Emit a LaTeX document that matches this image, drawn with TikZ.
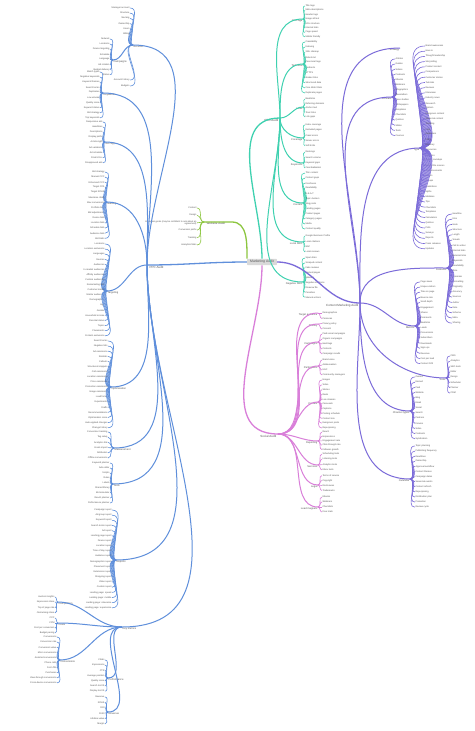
\documentclass[tikz,border=0pt]{standalone}
\usepackage{fontspec}
\setmainfont{Liberation Sans}
\definecolor{cb}{HTML}{5F8FDB}
\definecolor{ct}{HTML}{3FD1B0}
\definecolor{cg}{HTML}{8CC63F}
\definecolor{cp}{HTML}{7B6BD9}
\definecolor{cpk}{HTML}{D97FD9}
\definecolor{tx}{HTML}{555555}
\tikzset{
 leaf/.style={inner sep=0.3pt,text=tx,font=\fontsize{2.3}{2.6}\selectfont},
 sub/.style={inner sep=0.4pt,text=tx,font=\fontsize{2.6}{3}\selectfont},
 hub/.style={inner sep=0.5pt,text=tx,font=\fontsize{3}{3.4}\selectfont},
 lw/.style={line width=0.6pt},
 sw/.style={line width=1pt},
 hw/.style={line width=1.3pt}
}
\newcommand\lv[6]{\foreach \t [count=\i] in {#6}{\node[leaf,anchor=east,align=right] (#1-\i) at (#3,{#4+(\i-1)*#5}) {\t};
 \draw[#2,lw] (#1) to[out=180,in=0] (#1-\i.east);}}
\newcommand\rv[6]{\foreach \t [count=\i] in {#6}{\node[leaf,anchor=west,align=left] (#1-\i) at (#3,{#4+(\i-1)*#5}) {\t};
 \draw[#2,lw] (#1) to[out=0,in=180] (#1-\i.west);}}
\newcommand\Lj[4]{\coordinate (#1) at (#2,#3); \node[sub,anchor=north west] (#1l) at (#1) {#4};}
\newcommand\Rj[4]{\coordinate (#1) at (#2,#3); \node[sub,anchor=north east] (#1l) at (#1) {#4};}
\begin{document}
\begin{tikzpicture}[x=1pt,y=-1pt]
\useasboundingbox[fill=white] (0,0) rectangle (474,731);
\node[hub,fill=black!15,rounded corners=0.5pt,inner xsep=3pt,inner ysep=1.5pt,font=\fontsize{3.4}{4}\selectfont] (mkt) at (262,262) {Marketing Audit};

% ---------------- Website audit (green)
\coordinate (web) at (204,222);
\node[hub,anchor=north west] (webl) at (206,222) {Website Audit};
\draw[cg,hw] (web) -- (232,222) to[out=0,in=90] (mkt.north west);
\lv{web}{cg}{197}{208}{7.4}{Content,Design,{Uncertain goals (may be confident to ask about an\\ agreement)},Conversion paths,Tracking,Analytics/Stats}

% ---------------- PPC audit (blue)
\coordinate (ppc) at (147,265);
\node[hub,anchor=north west] (ppcl) at (149,266) {PPC Audit};
\draw[cb,hw] (mkt.west) to[out=180,in=0] (ppc);
\Lj{bacc}{133}{45}{Account}
\Lj{bcamp}{113}{60}{Campaigns}
\Lj{bkw}{103}{93}{Keywords}
\Lj{bads}{105}{142}{Ad copy}
\Lj{bbid}{107}{202}{Bidding}
\Lj{btgt}{107}{291}{Targeting}
\Lj{bopt}{111}{387}{Optimisation}
\Lj{bmeas}{114}{448}{Measurement}
\Lj{btool}{113}{484}{Tools}
\Lj{brep}{116}{560}{Reports}
\Lj{bkpi}{122}{627}{Key metrics}
\Lj{bcomp}{58}{602}{Competition}
\Lj{bcost}{58}{623}{Costs}
\Lj{bconv}{60}{660}{Conversions}
\Lj{bperf}{108}{678}{Performance}
\Lj{brev}{108}{712}{Revenue}
\foreach \n in {bacc,bkw,bads,bbid}{\draw[cb,sw] (ppc) to[out=90,in=0] (\n);}
\draw[cb,sw] (ppc) to[out=180,in=0] (btgt);
\foreach \n in {bopt,bmeas,btool,brep,bkpi}{\draw[cb,sw] (ppc) to[out=270,in=0] (\n);}
\draw[cb,sw] (bacc) to[out=180,in=0] (bcamp);
\foreach \n in {bcomp,bcost,bconv,bperf,brev}{\draw[cb,sw] (bkpi) to[out=180,in=0] (\n);}
\lv{bacc}{cb}{130}{8}{5.2}{Manager account,Structure,Naming,Ownership,Users,Billing}
\lv{bacc}{cb}{130}{80}{6}{Account history,Budgets}
\lv{bcamp}{cb}{110}{39}{5.1}{Network,Locations,Device targeting,Schedule,Language,Ad rotation,Budget delivery,Status}
\lv{bkw}{cb}{100}{72}{5.1}{Match types,Negative keywords,Keyword themes,Search terms,Duplicates,Low volume,Quality score,Keyword status,Bid strategy,Top keywords}
\lv{bads}{cb}{103}{122}{5.1}{Responsive ads,Headlines,Descriptions,Display paths,Ad strength,Ad variations,Ad schedule,Final URLs,Disapproved ads}
\lv{bbid}{cb}{105}{172}{5.1}{Bid strategy,Manual CPC,Enhanced CPC,Target CPA,Target ROAS,Maximise clicks,Max conversions,Portfolio bids,Bid adjustments,Device bids,Location bids,Schedule bids,Audience bids,Bid limits}
\lv{btgt}{cb}{105}{244}{5.1}{Locations,Location exclusions,Languages,Devices,Audiences,In-market audiences,Affinity audiences,Custom audiences,Remarketing lists,Customer match,Similar audiences,Demographics,Age,Gender,Household income,Parental status,Topics,Placements,Content exclusions}
\lv{bopt}{cb}{108}{341}{5.1}{Search terms,Negative lists,Ad extensions,Sitelinks,Callouts,Structured snippets,Call extensions,Location extensions,Price extensions,Promotion extensions,Image extensions,Lead forms,Experiments,Drafts,Recommendations,Optimisation score,Auto-applied changes,Change history}
\lv{bmeas}{cb}{108}{432}{5.2}{Conversion tracking,Tag setup,Analytics link,Goals import,Attribution,Offline conversions}
\lv{btool}{cb}{110}{463}{5}{Keyword planner,Ads editor,Scripts,Rules,Labels,Shared library,Bid simulator,Reach planner,Performance planner}
\lv{brep}{cb}{112}{510}{5.15}{Campaign report,Ad group report,Keyword report,Search terms report,Ad report,Landing page report,Device report,Location report,Time of day report,Audience report,Demographics report,Placement report,Extensions report,Shopping report,Video report,Custom report,Landing page: speed,Landing page: mobile,Landing page: relevance,Landing page: experience}
\lv{bcomp}{cb}{55}{597}{5.3}{Auction insights,Impression share,Top of page rate,Outranking share}
\lv{bcost}{cb}{55}{618}{5}{CPC,CPM,Cost per conversion,Budget pacing}
\lv{bconv}{cb}{57}{637}{5.1}{Conversions,Conversion rate,Conversion value,Micro conversions,Assisted conversions,Phone calls,Form fills,Purchases,View-through conversions,Cross-device conversions}
\lv{bperf}{cb}{105}{660}{5.2}{Clicks,Impressions,CTR,Average position,Quality score,Search lost IS,Display lost IS}
\lv{brev}{cb}{105}{697}{5.4}{Revenue,ROAS,ROI,Profit,Lifetime value,Margin}

% ---------------- SEO audit (teal)
\coordinate (seo) at (280,118);
\node[hub,anchor=north east] (seol) at (279,119) {SEO Audit};
\draw[ct,hw] (mkt.north) to[out=90,in=180] (seo);
\Rj{tonp}{303}{19}{On-Page}
\Rj{ttech}{303}{64}{Technical}
\Rj{tlink}{303}{107}{Links}
\Rj{tcov}{303}{138}{Coverage}
\Rj{tkw}{303}{163}{Keywords}
\Rj{tcont}{303}{203}{Content}
\Rj{tloc}{303}{242}{Local SEO}
\Rj{tneg}{303}{282}{Negative SEO}
\foreach \n in {tonp,ttech}{\draw[ct,sw] (seo) to[out=90,in=180] (\n);}
\draw[ct,sw] (seo) to[out=0,in=180] (tlink);
\foreach \n in {tcov,tkw,tcont,tloc,tneg}{\draw[ct,sw] (seo) to[out=270,in=180] (\n);}
\rv{tonp}{ct}{305}{6}{4.4}{Title tags,Meta descriptions,Header tags,Image alt text,URL structure,Internal links,Page speed,Mobile friendly}
\rv{ttech}{ct}{305}{42}{5.1}{Crawlability,Indexing,XML sitemap,Robots.txt,Canonical tags,Redirects,HTTPS,Broken links,Structured data,Core Web Vitals,Duplicate pages}
\rv{tlink}{ct}{305}{99}{4.5}{Backlinks,Referring domains,Anchor text,Toxic links,Link gaps}
\rv{tcov}{ct}{305}{125}{5.2}{Index coverage,Excluded pages,Crawl errors,Server errors,Soft 404s}
\rv{tkw}{ct}{305}{152}{5.3}{Rankings,Search volume,Keyword gaps,Cannibalisation}
\rv{tcont}{ct}{305}{173}{5.1}{Thin content,Content gaps,Freshness,Readability,E-E-A-T,Topic clusters,Blog posts,Landing pages,Product pages,Category pages,Media,Content quality}
\rv{tloc}{ct}{305}{236}{5.3}{Google Business Profile,Local citations,NAP,Local reviews}
\rv{tneg}{ct}{305}{258}{4.9}{Spam links,Scraped content,Fake reviews,Hacked pages,Malware,Negative mentions,Disavow file,Penalties,Manual actions}

% ---------------- Social audit (pink)
\coordinate (soc) at (278,434);
\node[hub,anchor=north east] (socl) at (277,435) {Social Audit};
\draw[cpk,hw] (mkt.south) to[out=270,in=180] (soc);
\Rj{pta}{318}{313}{Target audience}
\Rj{ppri}{318}{324}{Privacy}
\Rj{pcam}{318}{342}{Campaigns}
\Rj{ppar}{318}{366}{Participants}
\Rj{pcon}{318}{402}{Content}
\Rj{prep}{318}{441}{Reporting}
\Rj{pser}{318}{465}{Services}
\Rj{pleg}{318}{485}{Legal}
\Rj{plea}{318}{507}{Lead magnets}
\foreach \n in {pta,ppri,pcam,ppar,pcon,prep,pser,pleg,plea}{\draw[cpk,sw] (soc) to[out=0,in=180] (\n);}
\rv{pta}{cpk}{322}{313}{5.5}{Demographics,Personas}
\rv{ppri}{cpk}{322}{323.5}{5.5}{Privacy policy,Consent}
\rv{pcam}{cpk}{322}{334}{5}{Paid social campaigns,Organic campaigns,Hashtags,Contests,Campaign results}
\rv{ppar}{cpk}{322}{360}{5}{Brand voice,Ambassadors,UGC,Community managers}
\rv{pcon}{cpk}{322}{380}{4.8}{Images,Video,Stories,Reels,Live streams,Carousels,Captions,Posting schedule,Content mix,Evergreen posts,Repurposing}
\rv{prep}{cpk}{322}{432}{4.4}{Reach,Impressions,Engagement rate,Click-through rate,Follower growth}
\rv{pser}{cpk}{322}{454}{5.3}{Scheduling tools,Listening tools,Analytics tools,Inbox tools}
\rv{pleg}{cpk}{322}{475.5}{5}{Terms of service,Copyright,Disclosures,Trademarks}
\rv{plea}{cpk}{322}{497}{5}{Ebooks,Webinars,Checklists,Free trials}

% ---------------- Content marketing audit (purple)
\coordinate (cnt) at (360,303);
\node[hub,anchor=north east] (cntl) at (359,304) {Content Marketing Audit};
\draw[cp,hw] (mkt.east) to[out=0,in=180] (cnt);
\Rj{cstr}{400}{48}{Strategy}
\Rj{cfmt}{392}{97}{Formats}
\Rj{ctyp}{420}{148}{Type}
\Rj{cfea}{447}{268}{Features}
\Rj{cmet}{415}{326}{Metrics}
\Rj{ctoo}{446}{378}{Tools}
\Rj{ccha}{410}{411}{Channel types}
\Rj{ccal}{410}{479}{Calendar}
\foreach \n in {cstr,cfmt,ctyp,cfea}{\draw[cp,sw] (cnt) to[out=90,in=180] (\n);}
\draw[cp,sw] (cnt) to[out=0,in=180] (cmet);
\foreach \n in {ctoo,ccha,ccal}{\draw[cp,sw] (cnt) to[out=270,in=180] (\n);}
\rv{cfmt}{cp}{395}{59}{5.1}{Articles,Guides,Videos,Podcasts,Ebooks,Webinars,Infographics,Newsletters,Case studies,Whitepapers,Templates,Checklists,Quizzes,Slides,Tools,Courses}
\rv{ctyp}{cp}{425}{46}{5.2}{Brand awareness,How-to,Thought leadership,Storytelling,Product content,Comparisons,Customer stories,Tutorials,Reviews,Interviews,Industry news,Research,Opinion,Evergreen content,Seasonal content,Trending,Lists,Explainers,FAQs,Glossary,Resources,Statistics,Expert roundups,Behind the scenes,Announcements,Events,Recaps,Predictions,Myths,Mistakes,Tips,Checklists,Templates,Calculators,Quizzes,Polls,Surveys,Reports,Press releases,Updates}
\rv{cfea}{cp}{452}{214}{5.2}{Headline,Intro,Hook,Structure,Length,Visuals,Call to action,Internal links,External links,Keywords,Readability,Tone,Grammar,Formatting,Originality,Accuracy,Sources,Author,Date,Schema,Meta,Sharing}
\rv{cmet}{cp}{420}{282}{5.1}{Page views,Unique visitors,Time on page,Bounce rate,Scroll depth,Engagement,Shares,Comments,Backlinks,Leads,Conversions,Subscribers,Downloads,Sign ups,Revenue,Cost per lead,Content ROI}
\rv{ctoo}{cp}{450}{356}{5.3}{CMS,Analytics,SEO tools,Editor,Design,Scheduler,Planner,CRM}
\rv{ccha}{cp}{415}{377}{5.15}{Owned,Earned,Paid,Website,Blog,Email,Social,Search,Partners,Forums,Video,Podcasts,Syndication}
\rv{ccal}{cp}{415}{446}{5.1}{Topic planning,Publishing frequency,Deadlines,Ownership,Approval workflow,Content themes,Campaign dates,Seasonal events,Content refresh,Repurposing,Distribution plan,Promotion,Review cycle}
\end{tikzpicture}
\end{document}
